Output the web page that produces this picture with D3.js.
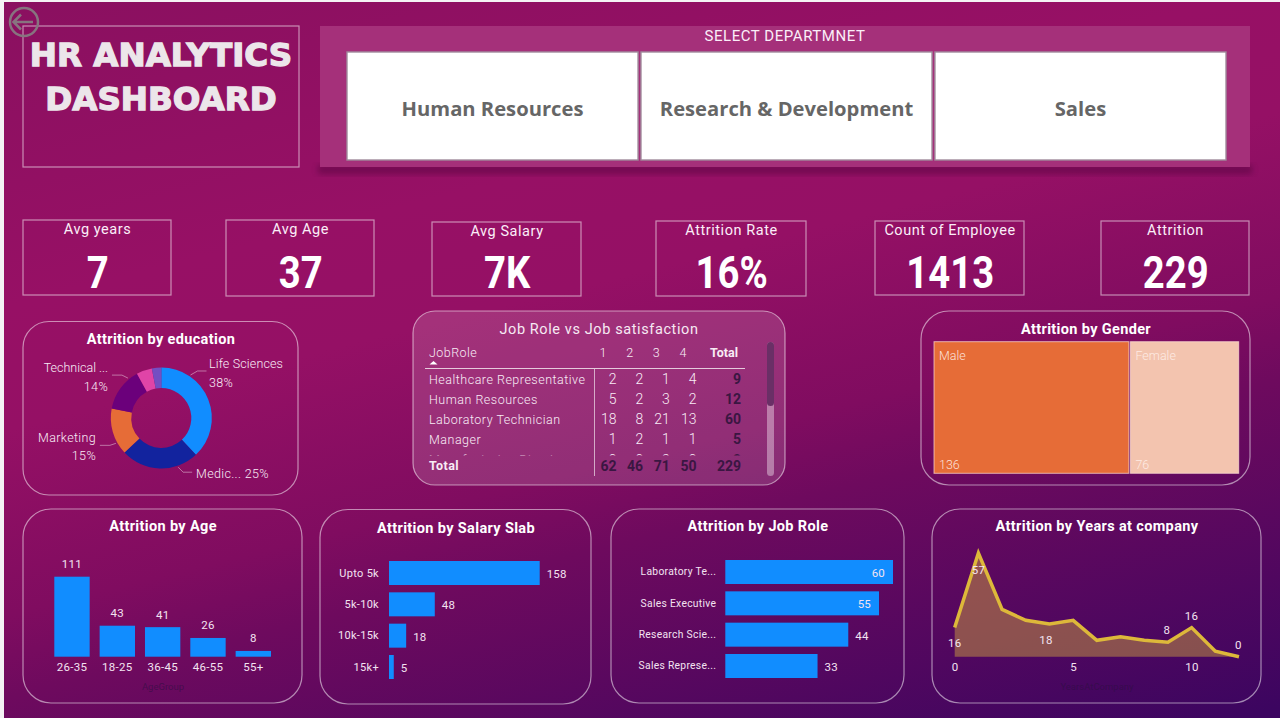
<!DOCTYPE html>
<html><head><meta charset="utf-8">
<style>
html,body{margin:0;padding:0;background:#fff;overflow:hidden}
svg{display:block}
text{font-family:Roboto,"Open Sans",sans-serif}
</style>
<script src="https://cdn.jsdelivr.net/npm/d3@7/dist/d3.min.js"></script>
</head><body><svg id="c" width="1280" height="718"></svg>
<script>
// ---------- data ----------
const titleLines = ["HR ANALYTICS","DASHBOARD"];
const departments = ["Human Resources","Research & Development","Sales"];
const kpiLabels = ["Avg years","Avg Age","Avg Salary","Attrition Rate","Count of Employee","Attrition"];
const kpiValues = ["7","37","7K","16%","1413","229"];
const eduLabels = ["Life Sciences","Medical","Marketing","Technical Degree","Other","Human Resources"];
const eduValues = [38,25,15,14,5,3];
const tableRoles = ["Healthcare Representative","Human Resources","Laboratory Technician","Manager","Manufacturing Director"];
const sat1 = [2,5,18,1,0];
const sat2 = [2,2,8,2,0];
const sat3 = [1,3,21,1,2];
const sat4 = [4,2,13,1,0];
const roleTotals = [9,12,60,5,2];
const satTotals = [62,46,71,50,229];
const satHeaders = ["1","2","3","4","Total"];
const genderLabels = ["Male","Female"];
const genderValues = [136,76];
const ageGroups = ["26-35","18-25","36-45","46-55","55+"];
const ageValues = [111,43,41,26,8];
const salaryBands = ["Upto 5k","5k-10k","10k-15k","15k+"];
const salaryValues = [158,48,18,5];
const jobRoles = ["Laboratory Te...","Sales Executive","Research Scie...","Sales Represe..."];
const jobValues = [60,55,44,33];
const years = [0,1,2,3,4,5,6,7,8,9,10,11,12];
const yearValues = [16,57,26,20,18,20,9,11,9,8,16,3,0];

// ---------- palette / layout ----------
const BLUE="#118DFF", TXT="#f3e3f1", LINE="rgba(255,255,255,.52)";
const svg=d3.select("#c");
const defs=svg.append("defs");
const g=defs.append("linearGradient").attr("id","bg").attr("gradientUnits","userSpaceOnUse")
  .attr("x1",0).attr("y1",0).attr("x2",242).attr("y2",967);
[[0,"#8a1060"],[.3,"#971065"],[.42,"#951065"],[.6,"#800c60"],[.68,"#6e0a5e"],[1,"#3c0560"]].forEach(s=>g.append("stop").attr("offset",s[0]).attr("stop-color",s[1]));
const blur=defs.append("filter").attr("id","blur").attr("x","-5%").attr("y","-30%").attr("width","110%").attr("height","160%");
blur.append("feGaussianBlur").attr("stdDeviation",3);

svg.append("rect").attr("width",1280).attr("height",718).attr("fill","#f4f2f4");
svg.append("rect").attr("x",4).attr("y",2).attr("width",1276).attr("height",716).attr("fill","url(#bg)");

function panel(x0,y0,x1,y1,r,fill){
  return svg.append("rect").attr("x",x0).attr("y",y0).attr("width",x1-x0).attr("height",y1-y0)
    .attr("rx",r).attr("ry",r).attr("fill",fill||"none").attr("stroke",LINE).attr("stroke-width",1.2);
}
function label(x,y,t,size,opts){
  opts=opts||{};
  return svg.append("text").attr("x",x).attr("y",y).text(t).attr("font-size",size)
    .attr("fill",opts.fill||TXT).attr("text-anchor",opts.anchor||"middle")
    .attr("dominant-baseline","central").attr("font-weight",opts.weight||400)
    .style("letter-spacing",(opts.ls||0)+"px");
}
function head(x,y,t){return label(x,y,t,14.5,{fill:"#fff",weight:700,ls:.35});}

// ---------- title ----------
panel(23,26,299,167,0);
titleLines.forEach((t,i)=>{
  svg.append("text").attr("x",161).attr("y",66+i*44).attr("text-anchor","middle").text(t)
    .attr("font-size",32.5).attr("font-weight",700).attr("fill","#ece6ea").attr("stroke","#ece6ea").attr("stroke-width",1.3)
    .style("font-family","'DejaVu Sans',sans-serif");
});
const back=svg.append("g").attr("fill","none").attr("stroke","#87747f").attr("stroke-width",2.5);
back.append("circle").attr("cx",24).attr("cy",22).attr("r",14);
back.append("path").attr("d","M14 22H33M21 14.5L13.5 22L21 29.5");

// ---------- slicer ----------
svg.append("rect").attr("x",318).attr("y",165).attr("width",934).attr("height",9).attr("fill","#3c0030").attr("opacity",.4).attr("filter","url(#blur)");
svg.append("rect").attr("x",320).attr("y",26).attr("width",930).attr("height",141).attr("fill","#a5307a");
label(785,36,"SELECT DEPARTMNET",15,{fill:"#fbeef8",ls:.55});
const deptX=d3.scaleBand().domain(departments).range([347,1226]).paddingInner(0.01);
svg.selectAll(".dept").data(departments).join("rect").attr("class","dept")
  .attr("x",d=>deptX(d)).attr("y",52).attr("width",deptX.bandwidth()).attr("height",108)
  .attr("fill","#fff").attr("stroke","#a08a9c").attr("stroke-width",1.4);
svg.selectAll(".deptT").data(departments).join("text").attr("class","deptT")
  .attr("x",d=>deptX(d)+deptX.bandwidth()/2).attr("y",108).attr("text-anchor","middle").attr("dominant-baseline","central")
  .attr("font-size",20.2).attr("font-weight",700).attr("fill","#666").text(d=>d).style("font-family","'Open Sans',sans-serif");

// ---------- KPI cards ----------
const kpiBoxes=[[23,220,171,295],[226,220,374,296],[432,222,581,296],[656,221,806,296],[875,221,1024,295],[1101,221,1249,295]];
kpiLabels.forEach((t,i)=>{
  const b=kpiBoxes[i], cx=(b[0]+b[2])/2;
  panel(b[0],b[1],b[2],b[3],0);
  label(cx+.5,b[1]+9.5,t,14.5,{fill:"#fbeef8",ls:.55});
  svg.append("text").attr("transform",`translate(${cx+.7},288) scale(.85,1)`).attr("text-anchor","middle").text(kpiValues[i])
    .attr("font-size",45).attr("font-weight",700).attr("fill","#fff");
});

// ---------- education donut ----------
panel(23,321.5,298,495,26);
head(161,339,"Attrition by education");
const pie=d3.pie().sort(null)(eduValues);
const R=50.5,r0=30,dc={x:161.3,y:418};
const arc=d3.arc().innerRadius(r0).outerRadius(R);
const eduColor=d3.scaleOrdinal().domain(eduLabels).range([BLUE,"#12239E","#E66C37","#6B007B","#E044A7","#744EC2"]);
const dg=svg.append("g").attr("transform",`translate(${dc.x},${dc.y})`);
dg.selectAll("path").data(pie).join("path").attr("d",arc).attr("fill",(d,i)=>eduColor(eduLabels[i]));
// leader lines start on the ring, part way along each labelled slice
const leaderAt=[.25,.27,.26,.78];
const leaderBend=[[7,-4,16],[5,5,14],[-6,2,-16],[-6,-3,-16]];
leaderBend.forEach((b,i)=>{
  const a=pie[i].startAngle+(pie[i].endAngle-pie[i].startAngle)*leaderAt[i];
  const px=dc.x+Math.sin(a)*(R+1.5),py=dc.y-Math.cos(a)*(R+1.5);
  svg.append("path").attr("fill","none").attr("stroke","rgba(255,255,255,.42)").attr("stroke-width",1)
    .attr("d",`M${px} ${py}l${b[0]} ${b[1]}h${b[2]-b[0]}`);
});
const thin={weight:300,fill:"#f8ecf6"};
label(209,363.5,"Life Sciences",12.5,{anchor:"start",ls:.15,...thin});
label(209,382,eduValues[0]+"%",12.5,{anchor:"start",ls:.35,...thin});
label(196,473,"Medic... "+eduValues[1]+"%",12.5,{anchor:"start",ls:.35,...thin});
label(96,437,"Marketing",12.5,{anchor:"end",ls:.35,...thin});
label(96,455,eduValues[2]+"%",12.5,{anchor:"end",ls:.35,...thin});
label(108,367,"Technical ...",12.5,{anchor:"end",ls:0,...thin});
label(108,386,eduValues[3]+"%",12.5,{anchor:"end",ls:.35,...thin});

// ---------- matrix ----------
panel(413,311,785,485,22,"rgba(255,255,255,.14)");
label(599,329,"Job Role vs Job satisfaction",14.5,{fill:"#f6e9f3",ls:.6});
label(429,352,"JobRole",12.5,{anchor:"start",ls:.45,...thin});
const colX=d3.scalePoint().domain(satHeaders.slice(0,4)).range([616.5,696.5]);
const colHeadDx=-13.5;
satHeaders.slice(0,4).forEach(h=>label(colX(h)+colHeadDx,352,h,12.5,thin));
label(738,352,"Total",12.5,{anchor:"end",weight:700,fill:"#f8ecf5"});
svg.append("path").attr("d","M429.5 364.5l4 -3.5l4 3.5z").attr("fill","#fff");
svg.append("line").attr("x1",425).attr("x2",745).attr("y1",368.5).attr("y2",368.5).attr("stroke","rgba(255,255,255,.75)");
svg.append("line").attr("x1",594.5).attr("x2",594.5).attr("y1",369).attr("y2",476).attr("stroke","rgba(255,255,255,.6)");
const clip=defs.append("clipPath").attr("id","rows");
clip.append("rect").attr("x",420).attr("y",369).attr("width",330).attr("height",86.5);
const rowY=d3.scalePoint().domain(tableRoles).range([379,459.6]);
const rows=svg.append("g").attr("clip-path","url(#rows)");
const satCols=[sat1,sat2,sat3,sat4];
tableRoles.forEach((role,i)=>{
  const y=rowY(role);
  rows.append("text").attr("x",429).attr("y",y).text(role).attr("font-size",12.5).attr("font-weight",300).attr("fill","#f8ecf6").attr("dominant-baseline","central").style("letter-spacing",".5px");
  satCols.forEach((c,j)=>rows.append("text").attr("x",colX(satHeaders[j])).attr("y",y).attr("text-anchor","end").attr("dominant-baseline","central").attr("font-size",14).attr("font-weight",300).attr("fill","#f8ecf6").text(c[i]));
  rows.append("text").attr("x",741).attr("y",y).attr("text-anchor","end").attr("dominant-baseline","central").attr("font-size",14).attr("font-weight",700).attr("fill","#3a1642").text(roleTotals[i]);
});
label(429,465.5,"Total",12.5,{anchor:"start",weight:700,fill:"#f8ecf5",ls:.4});
satTotals.forEach((v,j)=>{
  const x=j<4?colX(satHeaders[j]):741;
  label(x,466,v,14,{anchor:"end",weight:700,fill:"#3a1642"});
});
svg.append("rect").attr("x",767).attr("y",342).attr("width",7).attr("height",134).attr("rx",3.5).attr("fill","rgba(255,255,255,.38)");
svg.append("rect").attr("x",767).attr("y",342).attr("width",7).attr("height",64).attr("rx",3.5).attr("fill","#6a2f66");

// ---------- gender treemap ----------
panel(921,311,1250,485,28);
head(1086,329,"Attrition by Gender");
const root=d3.hierarchy({children:genderLabels.map((n,i)=>({name:n,value:genderValues[i]}))}).sum(d=>d.value||0);
d3.treemap().tile(d3.treemapDice).size([304.7,131.6]).paddingInner(1.5)(root);
const tm=svg.append("g").attr("transform","translate(934,341.7)");
const tmColor=d3.scaleOrdinal().domain(genderLabels).range(["#E66C37","#F3C4AF"]);
const cells=tm.selectAll("g").data(root.leaves()).join("g").attr("transform",d=>`translate(${d.x0},${d.y0})`);
cells.append("rect").attr("width",d=>d.x1-d.x0).attr("height",d=>d.y1-d.y0).attr("fill",d=>tmColor(d.data.name)).attr("stroke","rgba(255,225,215,.7)").attr("stroke-width",1);
cells.append("text").attr("x",5).attr("y",14).attr("dominant-baseline","central").attr("font-size",12.5).attr("font-weight",300).attr("fill","rgba(255,240,235,.9)").text(d=>d.data.name);
cells.append("text").attr("x",5).attr("y",d=>d.y1-d.y0-9).attr("dominant-baseline","central").attr("font-size",12.5).attr("font-weight",300).attr("fill","rgba(255,240,235,.9)").text(d=>d.data.value);

function cleanAxis(sel,size){
  sel.select(".domain").remove();
  sel.selectAll("text").attr("font-size",size).attr("fill",TXT).style("font-family","Roboto,sans-serif").style("letter-spacing",".3px");
}

// ---------- age columns ----------
panel(23,509,302,703,28);
head(163,526,"Attrition by Age");
const ax=d3.scaleBand().domain(ageGroups).range([54.3,271]).paddingInner(.22);
const ay=d3.scaleLinear().domain([0,111]).range([656.7,576.7]);
svg.selectAll(".age").data(ageValues).join("rect").attr("class","age")
  .attr("x",(d,i)=>ax(ageGroups[i])).attr("width",ax.bandwidth()).attr("y",d=>ay(d)).attr("height",d=>ay(0)-ay(d)).attr("fill",BLUE);
svg.selectAll(".ageL").data(ageValues).join("text").attr("class","ageL")
  .attr("x",(d,i)=>ax(ageGroups[i])+ax.bandwidth()/2).attr("y",d=>ay(d)-12.5).attr("text-anchor","middle").attr("dominant-baseline","central")
  .attr("font-size",11.5).attr("fill",TXT).style("letter-spacing",".3px").text(d=>d);
svg.append("g").attr("transform","translate(0,656.7)").call(d3.axisBottom(ax).tickSize(0).tickPadding(6)).call(cleanAxis,11.5);
label(163,686,"AgeGroup",9.5,{fill:"rgba(45,15,65,.6)"});

// ---------- horizontal bars ----------
function hbars(cats,vals,x0,x1,y0,y1,pad,insideFrom,size){
  const x=d3.scaleLinear().domain([0,d3.max(vals)]).range([x0,x1]);
  const y=d3.scaleBand().domain(cats).range([y0,y1]).paddingInner(.234);
  const gg=svg.append("g");
  gg.selectAll("rect").data(vals).join("rect").attr("x",x0).attr("y",(d,i)=>y(cats[i])).attr("height",y.bandwidth()).attr("width",d=>x(d)-x0).attr("fill",BLUE);
  gg.selectAll("text").data(vals).join("text").attr("y",(d,i)=>y(cats[i])+y.bandwidth()/2+1).attr("dominant-baseline","central").attr("font-size",11.5)
    .attr("fill",TXT).style("letter-spacing",".2px").text(d=>d)
    .attr("x",d=>d>=insideFrom?x(d)-8:x(d)+7).attr("text-anchor",d=>d>=insideFrom?"end":"start");
  svg.append("g").attr("transform",`translate(${x0},0)`).call(d3.axisLeft(y).tickSize(0).tickPadding(pad)).call(cleanAxis,size);
}
panel(320,509.5,591,704,28);
head(456,528,"Attrition by Salary Slab");
hbars(salaryBands,salaryValues,389,539.7,561,679,10,1000,11);
panel(611,509,904,703,28);
head(758,526,"Attrition by Job Role");
hbars(jobRoles,jobValues,725.3,893,560,678,9,50,10.3);

// ---------- years area ----------
panel(932,509,1261,703,28);
head(1097,526,"Attrition by Years at company");
const yx=d3.scaleLinear().domain([0,12]).range([954.7,1239]);
const yy=d3.scaleLinear().domain([0,57]).range([656.7,553]);
const area=d3.area().x((d,i)=>yx(years[i])).y0(yy(0)).y1(d=>yy(d));
const lineG=d3.line().x((d,i)=>yx(years[i])).y(d=>yy(d));
svg.append("path").attr("d",area(yearValues)).attr("fill","#DFB83A").attr("fill-opacity",.42);
svg.append("path").attr("d",lineG(yearValues)).attr("fill","none").attr("stroke","#DDB83A").attr("stroke-width",3.5);
const yearLabelIdx=[0,1,4,9,10,12];
const yearLabelDy=[15,17,16,-12,-12,-12];
const yearLabelDx=[0,0,-3.5,-1,0,-0.5];
yearLabelIdx.forEach((idx,k)=>{
  label(yx(years[idx])+yearLabelDx[k],yy(yearValues[idx])+yearLabelDy[k],yearValues[idx],11.5,{ls:.3});
});
svg.append("g").attr("transform","translate(0,656.7)").call(d3.axisBottom(yx).tickValues([0,5,10]).tickSize(0).tickPadding(6)).call(cleanAxis,11.5);
label(1097,686,"YearsAtCompany",9.5,{fill:"rgba(45,15,65,.6)"});
</script></body></html>
